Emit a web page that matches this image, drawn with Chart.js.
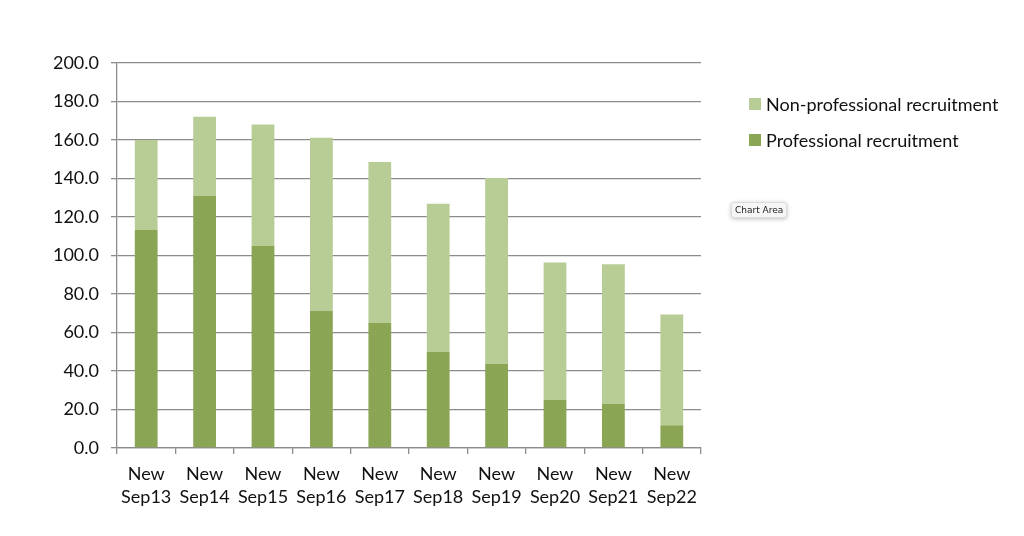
<!DOCTYPE html>
<html>
<head>
<meta charset="utf-8">
<script src="https://cdn.jsdelivr.net/npm/chart.js@4"></script>
<style>
  html, body { margin: 0; padding: 0; background: #fff; }
  #wrap { position: relative; width: 1024px; height: 536px; }
  canvas { display: block; }
  .legend { position: absolute; left: 749px; top: 86px; font: 18px Lato, "Open Sans", sans-serif; color: #111; }
  .legend div { display: flex; align-items: center; height: 36px; }
  .legend span.sw { display: inline-block; width: 12px; height: 12px; margin-right: 5px; }
  .tip { position: absolute; left: 731px; top: 202px; font: 9px "DejaVu Sans", sans-serif; color: #222;
         background: #f6f6f6; border: 1px solid #ddd; border-radius: 3px; padding: 2px 3px;
         box-shadow: 0 1px 4px rgba(0,0,0,.25); }
</style>
</head>
<body>
<div id="wrap">
  <canvas id="c" width="1024" height="536"></canvas>
  <div class="legend">
    <div><span class="sw" style="background:#b8cc96"></span>Non-professional recruitment</div>
    <div><span class="sw" style="background:#8aa554"></span>Professional recruitment</div>
  </div>
  <div class="tip">Chart Area</div>
</div>
<script>
  // ── Data ─────────────────────────────────────────────────────────────────────
  const categories      = [['New','Sep13'],['New','Sep14'],['New','Sep15'],['New','Sep16'],['New','Sep17'],
                           ['New','Sep18'],['New','Sep19'],['New','Sep20'],['New','Sep21'],['New','Sep22']];
  const professional    = [113.3, 130.9, 104.9, 71.3, 65.1, 50.0, 43.8, 24.9, 22.9, 11.8];
  const nonProfessional = [46.7, 41.2, 63.1, 89.9, 83.5, 76.9, 96.5, 71.4, 72.5, 57.6];
  const yTicks          = [0, 20, 40, 60, 80, 100, 120, 140, 160, 180, 200];

  const font = { family: 'Lato, "Open Sans", sans-serif', size: 18, lineHeight: 1.3 };
  const gridColor = '#8c8c8c';

  new Chart(document.getElementById('c'), {
    type: 'bar',
    data: {
      labels: categories,
      datasets: [
        { label: 'Professional recruitment', data: professional, backgroundColor: '#8aa554',
          barPercentage: 0.39, categoryPercentage: 1 },
        { label: 'Non-professional recruitment', data: nonProfessional, backgroundColor: '#b8cc96',
          barPercentage: 0.39, categoryPercentage: 1 }
      ]
    },
    options: {
      responsive: false,
      animation: false,
      layout: { padding: { top: 63, right: 323, left: 0, bottom: 0 } },
      plugins: { legend: { display: false }, tooltip: { enabled: false } },
      scales: {
        x: {
          stacked: true,
          afterFit: s => { s.height = 88; },
          grid: { drawOnChartArea: false, drawTicks: true, tickLength: 6, color: gridColor, lineWidth: 1.3 },
          border: { color: gridColor, width: 1.3 },
          ticks: { color: '#111', font, padding: 8, maxRotation: 0 }
        },
        y: {
          stacked: true,
          min: 0, max: 200,
          afterFit: s => { s.width = 117; },
          afterBuildTicks: s => { s.ticks = yTicks.map(v => ({ value: v })); },
          grid: { color: gridColor, lineWidth: 1.3, tickLength: 6 },
          border: { color: gridColor, width: 1.3 },
          ticks: { color: '#111', font, padding: 12, callback: v => v.toFixed(1) }
        }
      }
    }
  });
</script>
</body>
</html>
